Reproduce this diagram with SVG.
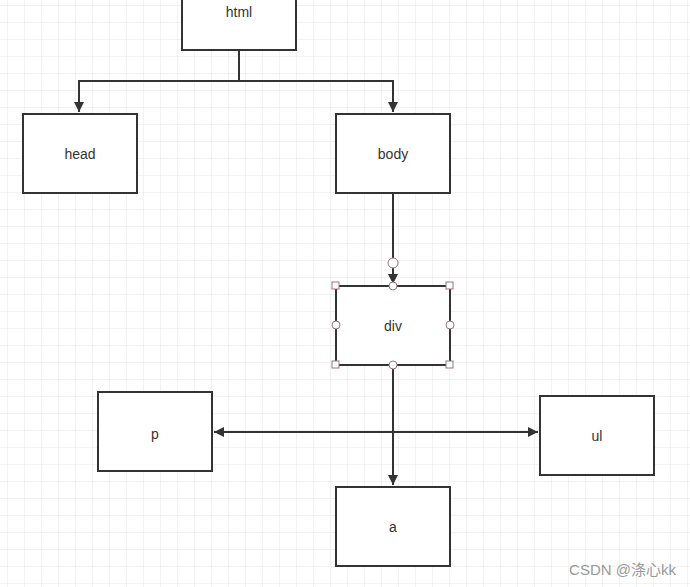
<svg xmlns="http://www.w3.org/2000/svg" width="690" height="587" viewBox="0 0 690 587">
<defs>
<pattern id="grid" x="7" y="5" width="17" height="17" patternUnits="userSpaceOnUse">
<path d="M17 0H0V17" fill="none" stroke="#e6e6e6" stroke-width="1"/>
</pattern>
<marker id="arr" viewBox="0 0 10 10" refX="10" refY="5" markerWidth="10" markerHeight="10" markerUnits="userSpaceOnUse" orient="auto-start-reverse">
<path d="M0 0L10 5L0 10Z" fill="#333"/>
</marker>
<style>
.box{fill:#fff;stroke:#333;stroke-width:2}
.t{font-family:"Liberation Sans",Arial,sans-serif;font-size:14px;fill:#333;text-anchor:middle;dominant-baseline:central}
.c{fill:none;stroke:#333;stroke-width:2}
.h{fill:#fff;stroke:#a07080;stroke-width:1}
</style>
</defs>
<rect width="690" height="587" fill="#fff"/>
<rect width="690" height="587" fill="url(#grid)"/>
<g id="connectors">
<path class="c" d="M239 50V81H79V112" marker-end="url(#arr)"/>
<path class="c" d="M239 81H393V112" marker-end="url(#arr)"/>
<path class="c" d="M393 193V284" marker-end="url(#arr)"/>
<path class="c" d="M393 365V485" marker-end="url(#arr)"/>
<path class="c" d="M214 432H538" marker-start="url(#arr)" marker-end="url(#arr)"/>
</g>
<g id="html"><rect class="box" x="182" y="-5" width="114" height="55"/><text class="t" x="239" y="12">html</text></g>
<g id="head"><rect class="box" x="23" y="114" width="114" height="79"/><text class="t" x="80" y="154">head</text></g>
<g id="body"><rect class="box" x="336" y="114" width="114" height="79"/><text class="t" x="393" y="154">body</text></g>
<g id="div"><rect class="box" x="336" y="286" width="114" height="79"/><text class="t" x="393" y="326">div</text>
<rect class="h" x="332" y="282" width="7" height="7"/><rect class="h" x="446" y="282" width="7" height="7"/>
<rect class="h" x="332" y="361" width="7" height="7"/><rect class="h" x="446" y="361" width="7" height="7"/>
<circle class="h" cx="393" cy="286" r="4"/><circle class="h" cx="393" cy="365" r="4"/>
<circle class="h" cx="336" cy="325" r="4"/><circle class="h" cx="450" cy="325" r="4"/>
<circle class="h" cx="393" cy="263" r="5"/>
</g>
<g id="p"><rect class="box" x="98" y="392" width="114" height="79"/><text class="t" x="155" y="434">p</text></g>
<g id="ul"><rect class="box" x="540" y="396" width="114" height="79"/><text class="t" x="597" y="436">ul</text></g>
<g id="a"><rect class="box" x="336" y="487" width="114" height="79"/><text class="t" x="393" y="527">a</text></g>
<text x="676" y="575" style="font-family:'Liberation Sans','Noto Sans CJK SC',sans-serif;font-size:15px;fill:#999;text-anchor:end">CSDN @涤心kk</text>
</svg>
